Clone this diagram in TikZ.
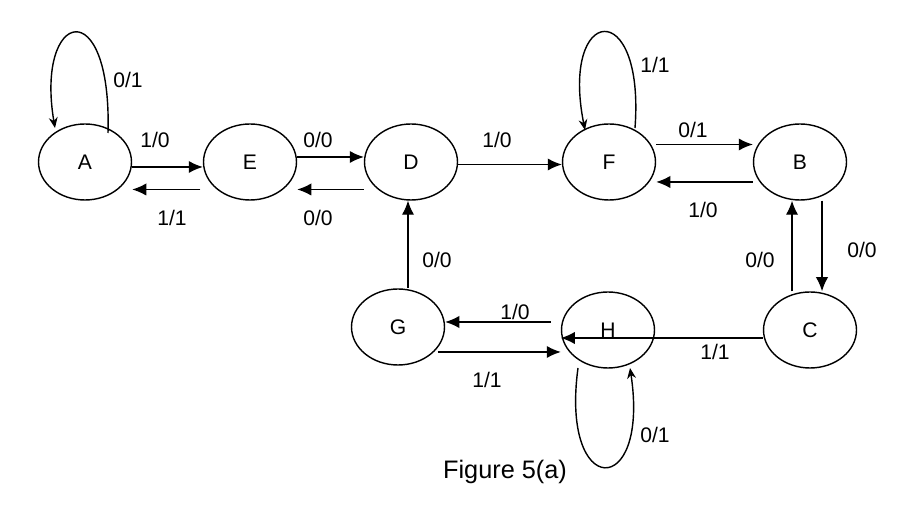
\documentclass[tikz,border=0pt]{standalone}
\usepackage{fontspec}
\setmainfont{Liberation Sans}
\usetikzlibrary{shapes.geometric,arrows.meta}
\begin{document}
\begin{tikzpicture}[x=0.02cm,y=-0.02cm,
  st/.style={draw,ellipse,minimum width=1.86cm,minimum height=1.52cm,font=\large,line width=0.8pt},
  ed/.style={-{Latex[length=8pt,width=7pt]},line width=0.8pt},
  lp/.style={-{Stealth[length=6pt,width=5pt]},line width=0.8pt},
  lb/.style={font=\large}]
\useasboundingbox (0,0) rectangle (916,516);
\node[st] (A) at (85,162) {A};
\node[st] (E) at (250,162) {E};
\node[st] (D) at (411,162) {D};
\node[st] (F) at (609,162) {F};
\node[st] (B) at (800,162) {B};
\node[st] (G) at (398,327) {G};
\node[st] (H) at (608,330) {H};
\node[st] (C) at (810,330) {C};
\draw[ed] ([yshift=-0.1cm]A.east) ++(0,0) coordinate (a1) -- (a1 -| E.west);
\draw[ed] ([xshift=-0.05cm,yshift=-0.55cm]E.west) coordinate (e1) -- (e1 -| A.east);
\draw[ed] ([yshift=0.1cm]E.east) coordinate (e2) -- (e2 -| D.west);
\draw[ed] ([yshift=-0.55cm]D.west) coordinate (d1) -- (d1 -| E.east);
\draw[ed] ([yshift=-0.05cm]D.east) coordinate (d2) -- (d2 -| F.west);
\draw[ed] ([yshift=0.35cm]F.east) coordinate (f1) -- (f1 -| B.west);
\draw[ed] ([yshift=-0.4cm]B.west) coordinate (b1) -- (b1 -| F.east);
\draw[ed] ([xshift=0.44cm]B.south) coordinate (b2) -- (b2 |- C.north);
\draw[ed] ([xshift=-0.36cm]C.north) coordinate (c1) -- (c1 |- B.south);
\draw[ed] ([yshift=-0.16cm]C.west) coordinate (c2) -- (c2 -| H.west) ;
\draw[ed] ([xshift=-0.2cm,yshift=0.16cm]H.west) coordinate (h1) -- (h1 -| G.east);
\draw[ed] ([xshift=-0.15cm,yshift=-0.5cm]G.east) coordinate (g1) -- (g1 -| H.west);
\draw[ed] ([xshift=0.2cm]G.north) coordinate (g2) -- (g2 |- D.south);
\draw[lp] (108,133) .. controls (112,-10) and (35,10) .. (55,128);
\draw[lp] (635,128) .. controls (645,-5) and (560,5) .. (585,130);
\draw[lp] (578,368) .. controls (560,500) and (650,500) .. (630,368);
\node[lb] (l1) at (155,140) {1/0};
\node[lb] (l2) at (172,218) {1/1};
\node[lb] (l3) at (318,140) {0/0};
\node[lb] (l4) at (318,218) {0/0};
\node[lb] (l5) at (497,140) {1/0};
\node[lb] (l6) at (693,130) {0/1};
\node[lb] (l7) at (703,210) {1/0};
\node[lb] (l8) at (862,250) {0/0};
\node[lb] (l9) at (760,260) {0/0};
\node[lb] (l10) at (715,352) {1/1};
\node[lb] (l11) at (515,312) {1/0};
\node[lb] (l12) at (487,380) {1/1};
\node[lb] (l13) at (437,260) {0/0};
\node[lb] (l14) at (128,80) {0/1};
\node[lb] (l15) at (655,65) {1/1};
\node[lb] (l16) at (655,435) {0/1};
\node[font=\Large] (cap) at (505,472) {Figure 5(a)};
\end{tikzpicture}
\end{document}
